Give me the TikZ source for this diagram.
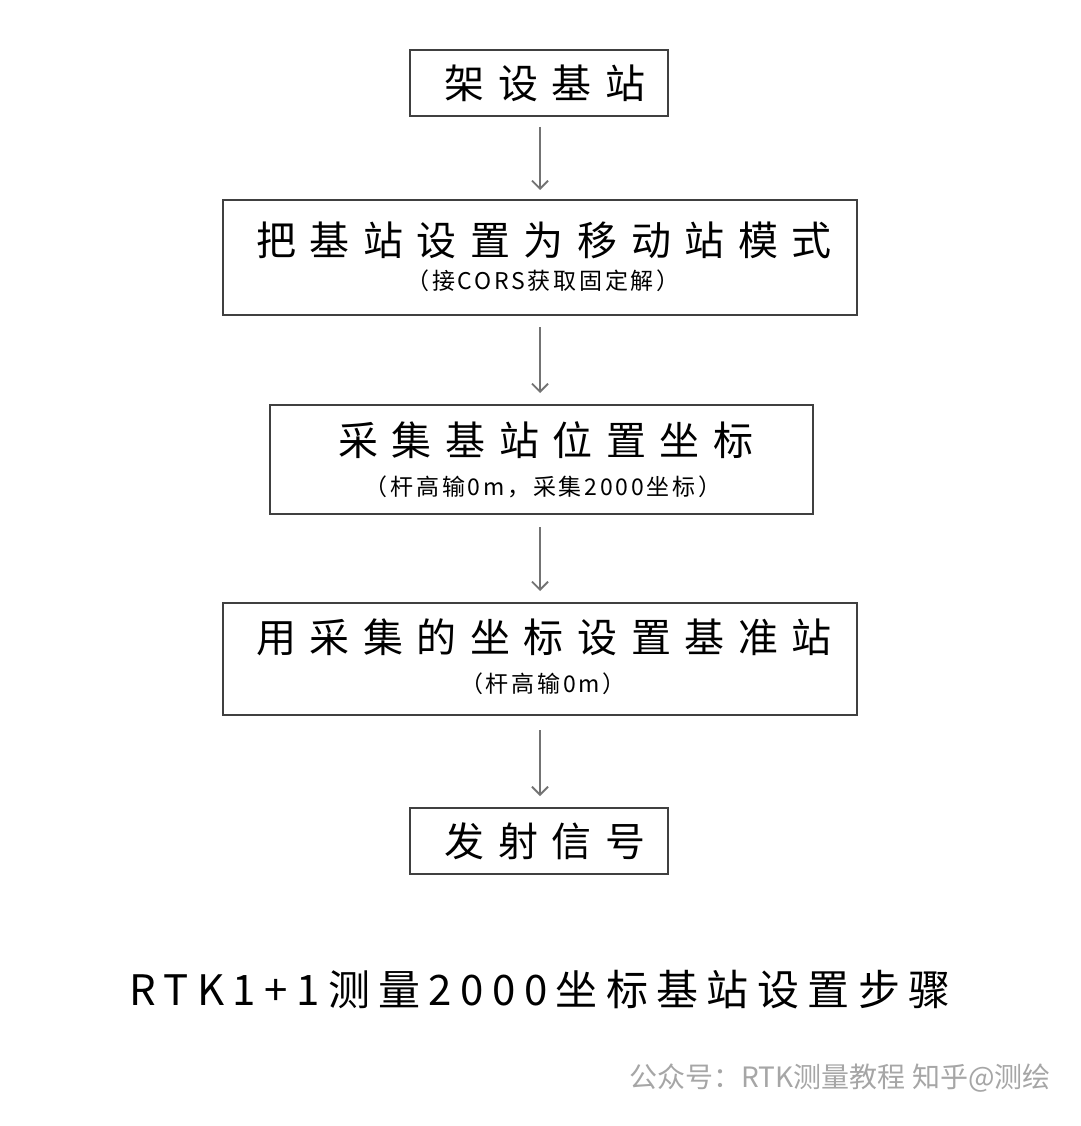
\documentclass[tikz,border=0pt]{standalone}
\usepackage{fontspec}
\usetikzlibrary{arrows.meta}
\setmainfont{Noto Sans CJK SC}
\newfontfamily\ttlfont[LetterSpace=34]{Noto Sans CJK SC}
\newfontfamily\subfont[LetterSpace=12]{Noto Sans CJK SC}
\newfontfamily\capfont[LetterSpace=20]{Noto Sans CJK SC}
\begin{document}
\begin{tikzpicture}[x=1pt,y=-1pt,
  box/.style={draw=black!75,line width=2pt,inner sep=0pt},
  arr/.style={draw=black!55,line width=1.8pt,-{Straight Barb[length=8pt,width=16pt]}},
  ttl/.style={font=\ttlfont\fontsize{40}{44}\selectfont},
  sub/.style={font=\subfont\fontsize{23}{28}\selectfont}]
\useasboundingbox[fill=white] (0,0) rectangle (1080,1126);
\node[box,minimum width=258pt,minimum height=66pt] (b1) at (539,83) {};
\node[ttl] at (545,83) {架设基站};
\node[box,minimum width=634pt,minimum height=115pt] (b2) at (540,257.5) {};
\node[ttl] at (544,240) {把基站设置为移动站模式};
\node[sub] at (543,281) {（接CORS获取固定解）};
\node[box,minimum width=543pt,minimum height=109pt] (b3) at (541.5,459.5) {};
\node[ttl] at (546,440) {采集基站位置坐标};
\node[sub] at (543,487) {（杆高输0m，采集2000坐标）};
\node[box,minimum width=634pt,minimum height=112pt] (b4) at (540,659) {};
\node[ttl] at (544,637) {用采集的坐标设置基准站};
\node[sub] at (543,684) {（杆高输0m）};
\node[box,minimum width=258pt,minimum height=66pt] (b5) at (539,841) {};
\node[ttl] at (545,841) {发射信号};
\coordinate (a1) at (540,127); \coordinate (c1) at (540,190);
\coordinate (a2) at (540,327); \coordinate (c2) at (540,393);
\coordinate (a3) at (540,527); \coordinate (c3) at (540,591);
\coordinate (a4) at (540,730); \coordinate (c4) at (540,796);
\draw[arr] (a1) -- (c1);
\draw[arr] (a2) -- (c2);
\draw[arr] (a3) -- (c3);
\draw[arr] (a4) -- (c4);
\node[font=\capfont\fontsize{42}{46}\selectfont] (cap) at (540,990) {RTK1+1测量2000坐标基站设置步骤};
\node[font=\fontsize{28}{32}\selectfont,text=black!35] (wm) at (840,1078) {公众号：RTK测量教程 知乎@测绘};
\end{tikzpicture}
\end{document}
